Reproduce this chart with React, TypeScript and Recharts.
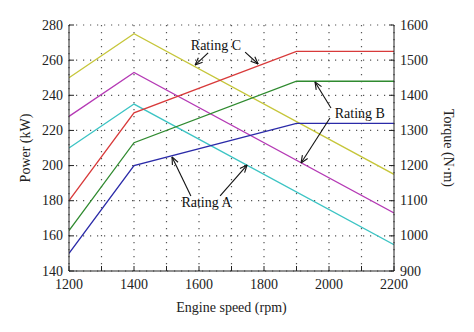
import React from 'react';
import { LineChart, Line, XAxis, YAxis, CartesianGrid, ReferenceLine, ReferenceDot } from 'recharts';

// ---- data ----
const speedPower = [1200, 1400, 1900, 2200];
const powerA = [150, 200, 224, 224];
const powerB = [163, 213, 248, 248];
const powerC = [180, 230, 265, 265];

const speedTorque = [1200, 1400, 2200];
const torqueA = [1250, 1375, 975];
const torqueB = [1340, 1465, 1065];
const torqueC = [1450, 1575, 1175];

const xTicks = [1200, 1300, 1400, 1500, 1600, 1700, 1800, 1900, 2000, 2100, 2200];
const powerTicks = [140, 160, 180, 200, 220, 240, 260, 280];
const torqueTicks = [900, 1000, 1100, 1200, 1300, 1400, 1500, 1600];

// annotations (data coordinates: speed, power)
const ratingNames = ['Rating A', 'Rating B', 'Rating C'];
const ratingSpeed = [1623, 2095, 1652];
const ratingPower = [178.7, 229.9, 268.6];

const arrowFromSpeed = [1575, 1665, 2006, 2003, 1628, 1742];
const arrowFromPower = [182.7, 182.7, 232.8, 227.1, 264.1, 264.6];
const arrowToSpeed = [1517, 1748, 1957, 1914, 1588, 1782];
const arrowToPower = [204.9, 200.3, 247.6, 201.5, 257.2, 257.8];

const FONT = '"Liberation Serif", "Times New Roman", serif';
const INK = '#222';

const rows = (xs: number[], ys: number[]) => xs.map((x, i) => ({ x, y: ys[i] }));

const BottomTick = (p: any) => {
  const { x, y, payload } = p;
  const v = payload.value;
  return (
    <g>
      <line x1={x} y1={y} x2={x} y2={y - 5} stroke={INK} strokeWidth={1} />
      {v % 200 === 0 && (
        <text x={x} y={y + 13} textAnchor="middle" dominantBaseline="central" fontFamily={FONT} fontSize={14} fill={INK}>
          {v}
        </text>
      )}
    </g>
  );
};

const TopTick = (p: any) => {
  const { x, y } = p;
  return <line x1={x} y1={y} x2={x} y2={y + 5} stroke={INK} strokeWidth={1} />;
};

const LeftTick = (p: any) => {
  const { x, y, payload } = p;
  return (
    <g>
      <line x1={x} y1={y} x2={x + 5} y2={y} stroke={INK} strokeWidth={1} />
      <text x={x - 6} y={y} textAnchor="end" dominantBaseline="central" fontFamily={FONT} fontSize={14} fill={INK}>
        {payload.value}
      </text>
    </g>
  );
};

const RightTick = (p: any) => {
  const { x, y, payload } = p;
  return (
    <g>
      <line x1={x} y1={y} x2={x - 5} y2={y} stroke={INK} strokeWidth={1} />
      <text x={x + 6} y={y} textAnchor="start" dominantBaseline="central" fontFamily={FONT} fontSize={14} fill={INK}>
        {payload.value}
      </text>
    </g>
  );
};

const ArrowShape = (p: any) => {
  const { x1, y1, x2, y2 } = p;
  const ang = Math.atan2(y2 - y1, x2 - x1);
  const L = 8;
  const a = 0.4;
  const hx1 = x2 - L * Math.cos(ang - a);
  const hy1 = y2 - L * Math.sin(ang - a);
  const hx2 = x2 - L * Math.cos(ang + a);
  const hy2 = y2 - L * Math.sin(ang + a);
  return (
    <g stroke="#111" strokeWidth={1.1} fill="none">
      <line x1={x1} y1={y1} x2={x2} y2={y2} />
      <line x1={x2} y1={y2} x2={hx1} y2={hy1} />
      <line x1={x2} y1={y2} x2={hx2} y2={hy2} />
    </g>
  );
};

const makeTextShape = (name: string) => (p: any) => (
  <text x={p.cx} y={p.cy} textAnchor="middle" dominantBaseline="central" fontFamily={FONT} fontSize={14} fill="#111">
    {name}
  </text>
);

const lineProps = { type: 'linear' as const, dataKey: 'y', dot: false, isAnimationActive: false, strokeWidth: 1.3, xAxisId: 'x' };

export default function App() {
  return (
    <div style={{ position: 'absolute', left: 0, top: 0, width: 474, height: 332, background: '#fff' }}>
      <LineChart width={474} height={332} margin={{ top: 25, right: 0, bottom: 0, left: 0 }}>
        <CartesianGrid xAxisId="x" yAxisId="left" stroke="#555" strokeWidth={1.2} strokeDasharray="1.2 5.8" verticalValues={xTicks} horizontalValues={powerTicks} />
        <XAxis
          xAxisId="x"
          type="number"
          dataKey="x"
          domain={[1200, 2200]}
          ticks={xTicks}
          interval={0}
          allowDataOverflow
          height={61}
          tickSize={0}
          tickMargin={0}
          tickLine={false}
          axisLine={{ stroke: INK }}
          tick={<BottomTick />}
          label={{
            content: (lp: any) => {
              const vb = lp.viewBox;
              return (
                <text x={vb.x + vb.width / 2} y={vb.y + 36} textAnchor="middle" dominantBaseline="central" fontFamily={FONT} fontSize={14} fill={INK}>
                  Engine speed (rpm)
                </text>
              );
            },
          }}
        />
        <XAxis
          xAxisId="top"
          orientation="top"
          type="number"
          dataKey="x"
          domain={[1200, 2200]}
          ticks={xTicks}
          interval={0}
          allowDataOverflow
          height={0}
          tickSize={0}
          tickMargin={0}
          tickLine={false}
          axisLine={{ stroke: INK }}
          tick={<TopTick />}
        />
        <YAxis
          yAxisId="left"
          orientation="left"
          type="number"
          domain={[140, 280]}
          ticks={powerTicks}
          interval={0}
          allowDataOverflow
          width={69}
          tickSize={0}
          tickMargin={0}
          tickLine={false}
          axisLine={{ stroke: INK }}
          tick={<LeftTick />}
          label={{
            content: (lp: any) => {
              const vb = lp.viewBox;
              const cy = vb.y + vb.height / 2;
              return (
                <text x={25} y={cy} transform={`rotate(-90 25 ${cy})`} textAnchor="middle" dominantBaseline="central" fontFamily={FONT} fontSize={14} fill={INK}>
                  Power (kW)
                </text>
              );
            },
          }}
        />
        <YAxis
          yAxisId="right"
          orientation="right"
          type="number"
          domain={[900, 1600]}
          ticks={torqueTicks}
          interval={0}
          allowDataOverflow
          width={80}
          tickSize={0}
          tickMargin={0}
          tickLine={false}
          axisLine={{ stroke: INK }}
          tick={<RightTick />}
          label={{
            content: (lp: any) => {
              const vb = lp.viewBox;
              const cy = vb.y + vb.height / 2;
              return (
                <text x={448} y={cy} transform={`rotate(90 448 ${cy})`} textAnchor="middle" dominantBaseline="central" fontFamily={FONT} fontSize={14} fill={INK}>
                  Torque (N·m)
                </text>
              );
            },
          }}
        />

        <Line {...lineProps} yAxisId="right" data={rows(speedTorque, torqueC)} stroke="#c6c63a" />
        <Line {...lineProps} yAxisId="right" data={rows(speedTorque, torqueB)} stroke="#b53ab5" />
        <Line {...lineProps} yAxisId="right" data={rows(speedTorque, torqueA)} stroke="#3cc4c4" />
        <Line {...lineProps} yAxisId="left" data={rows(speedPower, powerC)} stroke="#d83a3a" />
        <Line {...lineProps} yAxisId="left" data={rows(speedPower, powerB)} stroke="#2f8a2f" />
        <Line {...lineProps} yAxisId="left" data={rows(speedPower, powerA)} stroke="#2a2aa8" />

        {arrowFromSpeed.map((s, i) => (
          <ReferenceLine
            key={'arr' + i}
            xAxisId="x"
            yAxisId="left"
            segment={[
              { x: s, y: arrowFromPower[i] },
              { x: arrowToSpeed[i], y: arrowToPower[i] },
            ]}
            shape={ArrowShape}
          />
        ))}
        {ratingNames.map((n, i) => (
          <ReferenceDot key={'lab' + i} xAxisId="x" yAxisId="left" x={ratingSpeed[i]} y={ratingPower[i]} r={0} shape={makeTextShape(n)} />
        ))}
      </LineChart>
    </div>
  );
}
